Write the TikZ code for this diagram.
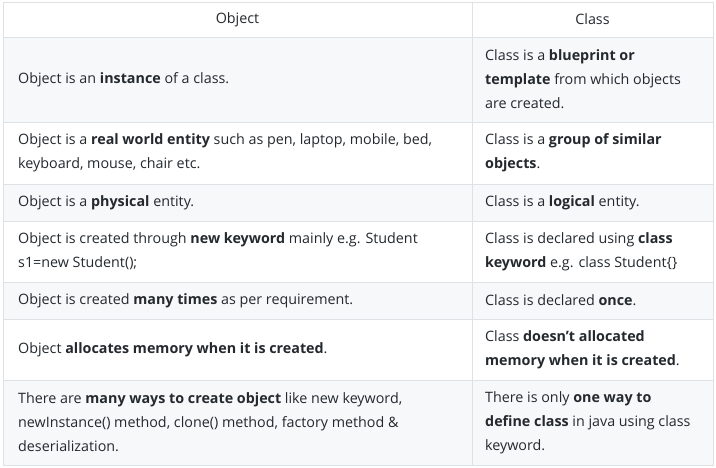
\documentclass[tikz,border=0pt]{standalone}
\usepackage{fontspec}
\setmainfont{Open Sans}
\definecolor{txt}{HTML}{24292E}
\definecolor{bord}{HTML}{DFE2E5}
\definecolor{rowbg}{HTML}{F6F8FA}
\begin{document}
\begin{tikzpicture}[x=1pt,y=-1pt,
  cell/.style={anchor=west,align=left,inner sep=0pt,text=txt,font=\fontsize{14.3}{24}\selectfont},
  head/.style={anchor=center,inner sep=0pt,text=txt,font=\fontsize{14.3}{24}\selectfont}]
\useasboundingbox (0,0) rectangle (716,467);
\fill[white] (0,0) rectangle (716,467);
\foreach \a/\b in {37/122,184/221,282/319,380/465}
  \fill[rowbg] (3,\a) rectangle (713,\b);
\draw[bord,line width=1pt] (3,2) rectangle (713,465);
\draw[bord,line width=1pt] (472,2) -- (472,465);
\foreach \y in {37,122,184,221,282,319,380}
  \draw[bord,line width=1pt] (3,\y) -- (713,\y);
\node[head] (h1) at (237.5,19.5) {Object};
\node[head] (h2) at (592.5,19.5) {Class};
\node[cell] (o1) at (18,79.5) {Object is an \textbf{instance} of a class.};
\node[cell] (c1) at (485,79.5) {Class is a \textbf{blueprint or}\\\textbf{template} from which objects\\are created.};
\node[cell] (o2) at (18,153) {Object is a \textbf{real world entity} such as pen, laptop, mobile, bed,\\keyboard, mouse, chair etc.};
\node[cell] (c2) at (485,153) {Class is a \textbf{group of similar}\\\textbf{objects}.};
\node[cell] (o3) at (18,202.5) {Object is a \textbf{physical} entity.};
\node[cell] (c3) at (485,202.5) {Class is a \textbf{logical} entity.};
\node[cell] (o4) at (18,251.5) {Object is created through \textbf{new keyword} mainly e.g. Student\\s1=new Student();};
\node[cell] (c4) at (485,251.5) {Class is declared using \textbf{class}\\\textbf{keyword} e.g. class Student\{\}};
\node[cell] (o5) at (18,300.5) {Object is created \textbf{many times} as per requirement.};
\node[cell] (c5) at (485,300.5) {Class is declared \textbf{once}.};
\node[cell] (o6) at (18,349.5) {Object \textbf{allocates memory when it is created}.};
\node[cell] (c6) at (485,349.5) {Class \textbf{doesn't allocated}\\\textbf{memory when it is created}.};
\node[cell] (o7) at (18,422.5) {There are \textbf{many ways to create object} like new keyword,\\newInstance() method, clone() method, factory method \&\\deserialization.};
\node[cell] (c7) at (485,422.5) {There is only \textbf{one way to}\\\textbf{define class} in java using class\\keyword.};
\end{tikzpicture}
\end{document}
